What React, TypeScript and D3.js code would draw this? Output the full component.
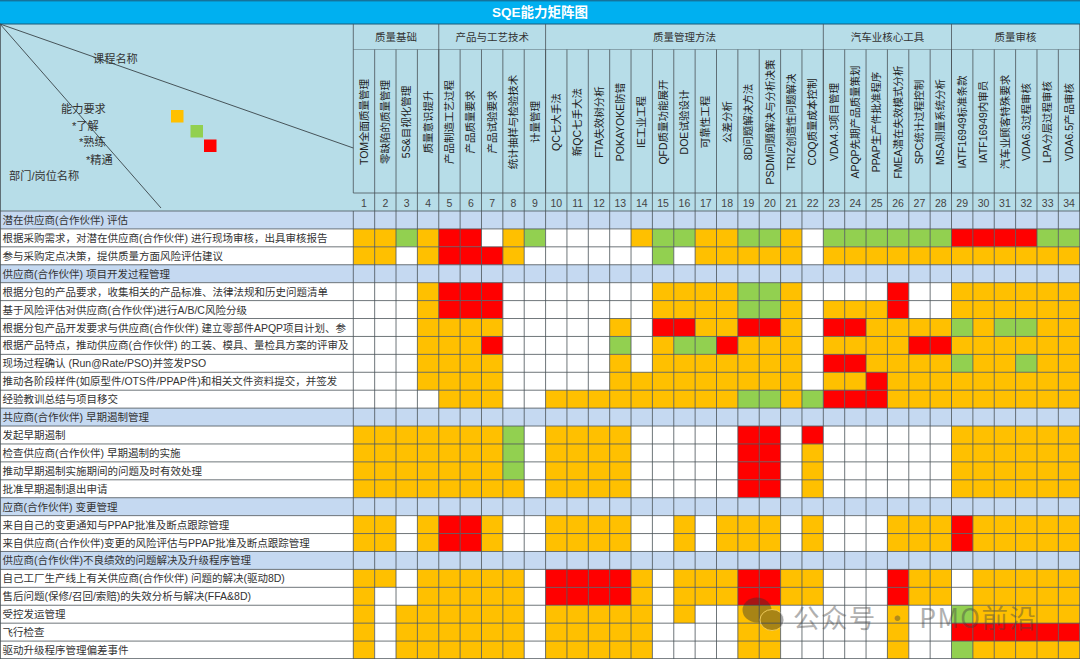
import React from 'react';
import * as d3 from 'd3';

const WIDTH = 1080;
const HEIGHT = 659;
const FONT = '"Liberation Sans", "Noto Sans CJK SC", sans-serif';

const courseNames = [
  'TOM全面质量管理', '零缺陷的质量管理', '5S&目视化管理', '质量意识提升',
  '产品制造工艺过程', '产品质量要求', '产品试验要求', '统计抽样与检验技术', '计量管理',
  'QC七大手法', '新QC七手大法', 'FTA失效树分析', 'POKAYOKE防错', 'IE工业工程', 'QFD质量功能展开', 'DOE试验设计', '可靠性工程', '公差分析', '8D问题解决方法', 'PSDM问题解决与分析决策', 'TRIZ创造性问题解决', 'COQ质量成本控制',
  'VDA4.3项目管理', 'APQP先期产品质量策划', 'PPAP生产件批准程序', 'FMEA潜在失效模式分析', 'SPC统计过程控制', 'MSA测量系统分析',
  'IATF16949标准条款', 'IATF16949内审员', '汽车业顾客特殊要求', 'VDA6.3过程审核', 'LPA分层过程审核', 'VDA6.5产品审核',
];

// each group with how many courses it spans
const groupNames = ['质量基础', '产品与工艺技术', '质量管理方法', '汽车业核心工具', '质量审核'];
const groupSizes = [4, 5, 13, 6, 6];

const rowLabels = [
  '潜在供应商(合作伙伴) 评估',
  '根据采购需求，对潜在供应商(合作伙伴) 进行现场审核，出具审核报告',
  '参与采购定点决策，提供质量方面风险评估建议',
  '供应商(合作伙伴) 项目开发过程管理',
  '根据分包的产品要求，收集相关的产品标准、法律法规和历史问题清单',
  '基于风险评估对供应商(合作伙伴)进行A/B/C风险分级',
  '根据分包产品开发要求与供应商(合作伙伴) 建立零部件APQP项目计划、参',
  '根据产品特点，推动供应商(合作伙伴) 的工装、模具、量检具方案的评审及',
  '现场过程确认 (Run@Rate/PSO)并签发PSO',
  '推动各阶段样件(如原型件/OTS件/PPAP件)和相关文件资料提交，并签发',
  '经验教训总结与项目移交',
  '共应商(合作伙伴) 早期遏制管理',
  '发起早期遏制',
  '检查供应商(合作伙伴) 早期遏制的实施',
  '推动早期遏制实施期间的问题及时有效处理',
  '批准早期遏制退出申请',
  '应商(合作伙伴) 变更管理',
  '来自自己的变更通知与PPAP批准及断点跟踪管理',
  '来自供应商(合作伙伴)变更的风险评估与PPAP批准及断点跟踪管理',
  '供应商(合作伙伴)不良绩效的问题解决及升级程序管理',
  '自己工厂生产线上有关供应商(合作伙伴) 问题的解决(驱动8D)',
  '售后问题(保修/召回/索赔)的失效分析与解决(FFA&8D)',
  '受控发运管理',
  '飞行检查',
  '驱动升级程序管理偏差事件',
];

// o = 了解, g = 熟练, r = 精通, . = none, split by course group; '' = section row
const rowLevels = [
  '',
  'oogo rr.og ....oggooggo. gggggg rrrrgg',
  'oo.o rrro. .....g.ooooo. oooooo oooooo',
  '',
  '...o rrr.. .....ooooggo. ...r.. oooooo',
  '...o rrr.. .....ooooggo. ooor.. oooooo',
  '...o ooo.. ...o.rroorro. rroooo goggoo',
  '...o oor.. ...g.oggrooo. oooorr oooooo',
  '...o ooo.. ...o.ooooooo. rroooo googoo',
  '...o ooo.. ...ooooooooo. oorooo oooooo',
  '.... ooo.. oooooooooggog rrrooo oooooo',
  '',
  'oooo ooog. oooo.....rr.r ...... oooooo',
  'oooo ooog. oooo.....rr.o ...... oooooo',
  'oooo ooog. oooo.....rr.o ...... oooooo',
  'oooo oooo. oooo.....rr.o ...... oooooo',
  '',
  'oo.o rro.. oooo..o.ooo.o ...ooo rooooo',
  'oo.o rro.. oooo..o.ooo.o ...ooo rooooo',
  '',
  'oo.o oooo. rrrro.ooorroo ...roo .ooooo',
  'o..o oooo. rrrro.ooorroo ...roo .ooooo',
  'o.oo oooo. ooooo.o..oo.. ...o.. gooooo',
  'o.oo oooo. ooooo....oo.. ...o.. rrrrrr',
  'o.oo oooo. ooooo....oo.. ...o.. gooooo',
];

const legendLevels = ['o', 'g', 'r'];
const levelNotes = ['能力要求', '*了解', '*熟练', '*精通'];

const levelColor = d3.scaleOrdinal<string, string>()
  .domain(['o', 'g', 'r', '.'])
  .range(['#ffc000', '#92d050', '#ff0000', '#ffffff']);

const x = d3.scaleBand<number>()
  .domain(d3.range(1, courseNames.length + 1))
  .range([353.3, 1079.7]);
const y = d3.scaleBand<number>()
  .domain(d3.range(rowLabels.length))
  .range([211, HEIGHT]);

const LINE = '#4a5358';

export default function App() {
  const bw = x.bandwidth();
  const bh = y.bandwidth();
  const groupStarts = d3.cumsum([0, ...groupSizes]);

  return (
    <svg width={WIDTH} height={HEIGHT} viewBox={`0 0 ${WIDTH} ${HEIGHT}`}
      style={{ position: 'fixed', left: 0, top: 0, display: 'block', background: '#fff' }}
      fontFamily={FONT}>
      <defs>
        <clipPath id="labels"><rect x={0} y={211} width={352} height={448} /></clipPath>
      </defs>

      {/* header */}
      <rect x={0} y={24} width={WIDTH} height={187} fill="#b7dde8" />
      <rect x={0} y={0} width={WIDTH} height={24} fill="#00b0f0" />
      <line x1={0} x2={WIDTH} y1={0.8} y2={0.8} stroke="#1d5a78" />
      <line x1={0} x2={WIDTH} y1={24} y2={24} stroke="#1d5a78" />
      <text x={540} y={17} textAnchor="middle" fontSize={13.5} fontWeight="bold" fill="#fff">SQE能力矩阵图</text>

      {/* corner cell */}
      <line x1={0} y1={24} x2={353.3} y2={148} stroke="#3a4448" strokeWidth={0.9} />
      <line x1={0} y1={24} x2={161} y2={208} stroke="#3a4448" strokeWidth={0.9} />
      <g fontSize={11.2} fill="#333">
        <text x={93} y={63}>课程名称</text>
        {levelNotes.map((t, i) => (
          <text key={t} x={[61, 72, 79, 86][i]} y={[113, 130, 146, 164][i]}>{t}</text>
        ))}
        <text x={9} y={180}>部门/岗位名称</text>
      </g>
      {legendLevels.map((l, i) => (
        <rect key={l} x={[171, 190.5, 204][i]} y={[110, 125, 139.5][i]} width={12.5} height={12.5}
          fill={levelColor(l)} />
      ))}

      {/* course groups */}
      <line x1={353.3} x2={WIDTH} y1={49.5} y2={49.5} stroke="#87a3ad" />
      {groupNames.map((g, i) => {
        const left = x(groupStarts[i] + 1)!;
        const w = groupSizes[i] * bw;
        return (
          <g key={g}>
            <line x1={left} x2={left} y1={24} y2={193} stroke={LINE} strokeWidth={0.8} />
            <text x={left + w / 2} y={41} textAnchor="middle" fontSize={10.5} fill="#333">{g}</text>
          </g>
        );
      })}

      {/* course names and numbers */}
      {courseNames.map((name, i) => {
        const cx = x(i + 1)! + bw / 2;
        return (
          <g key={name}>
            <line x1={cx + bw / 2} x2={cx + bw / 2} y1={49.5} y2={211} stroke={LINE} strokeWidth={0.8} />
            <text transform={`translate(${cx + 3.6},122) rotate(-90)`} textAnchor="middle" fontSize={10.5} fill="#222">{name}</text>
            <text x={cx} y={207} textAnchor="middle" fontSize={10.5} fill="#444">{i + 1}</text>
          </g>
        );
      })}
      <line x1={353.3} x2={WIDTH} y1={193} y2={193} stroke={LINE} strokeWidth={0.8} />

      {/* matrix body */}
      {rowLabels.map((label, r) => {
        const top = y(r)!;
        const isSection = rowLevels[r] === '';
        const cells = rowLevels[r].replace(/ /g, '').split('');
        return (
          <g key={r}>
            <rect x={0} y={top} width={WIDTH} height={bh} fill={isSection ? '#c5d9f1' : '#fff'} />
            {cells.map((c, j) => (
              <rect key={j} x={x(j + 1)} y={top} width={bw} height={bh} fill={levelColor(c)} />
            ))}
            <text x={2.5} y={top + 13} fontSize={10.5} fill="#333" clipPath="url(#labels)">{label}</text>
          </g>
        );
      })}

      {/* grid */}
      {y.domain().map(r => (
        <line key={r} x1={0} x2={WIDTH} y1={y(r)} y2={y(r)} stroke={LINE} strokeWidth={0.8} />
      ))}
      <line x1={0} x2={WIDTH} y1={658.6} y2={658.6} stroke={LINE} strokeWidth={0.8} />
      {x.domain().map(c => (
        <line key={c} x1={x(c)} x2={x(c)} y1={211} y2={HEIGHT} stroke={LINE} strokeWidth={0.8} />
      ))}
      <line x1={1079.7} x2={1079.7} y1={24} y2={HEIGHT} stroke={LINE} strokeWidth={0.8} />
      <line x1={0.5} x2={0.5} y1={24} y2={HEIGHT} stroke={LINE} strokeWidth={0.8} />

      {/* watermark */}
      <g opacity={0.42}>
        <ellipse cx={757} cy={610} rx={14.5} ry={12.5} fill="#333" />
        <ellipse cx={772} cy={620} rx={12} ry={10.5} fill="#333" stroke="#fff" strokeWidth={0.8} />
        <text x={793} y={628} fontSize={26.5} fill="#444" letterSpacing={1.4}
          fontFamily='"Noto Sans CJK SC", sans-serif'>公众号 · PMO前沿</text>
      </g>
    </svg>
  );
}
